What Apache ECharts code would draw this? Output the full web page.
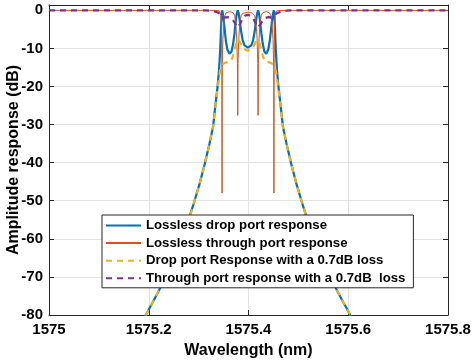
<!DOCTYPE html>
<html>
<head>
<meta charset="utf-8">
<script src="https://cdn.jsdelivr.net/npm/echarts@6/dist/echarts.min.js"></script>
<style>
html,body{margin:0;padding:0;background:#fff;}
#chart{width:474px;height:364px;}
</style>
</head>
<body>
<div id="chart"></div>
<script>
// ---------- data (wavelength nm, amplitude dB) ----------
const seriesNames = [
  'Lossless drop port response',
  'Lossless through port response',
  'Drop port Response with a 0.7dB loss',
  'Through port response with a 0.7dB  loss'
];
const xTickValues = [1575, 1575.2, 1575.4, 1575.6, 1575.8];
const xTickLabels = ['1575', '1575.2', '1575.4', '1575.6', '1575.8'];
const yTickValues = [-80, -70, -60, -50, -40, -30, -20, -10, 0];
const yTickLabels = ['-80', '-70', '-60', '-50', '-40', '-30', '-20', '-10', '0'];

const dropLossless = [
  [1575.182,-82.5],[1575.194,-80],[1575.206,-77.1],[1575.218,-74.2],[1575.230,-71.0],
  [1575.242,-67.6],[1575.254,-63.9],[1575.266,-59.9],[1575.278,-55.7],[1575.290,-50.8],
  [1575.302,-45.5],[1575.312,-40.5],[1575.322,-34.9],[1575.329,-30.5],[1575.334,-24.5],
  [1575.338,-20],[1575.341,-15.5],[1575.343,-11],[1575.3446,-6],[1575.346,-1.5],[1575.347,0],
  [1575.3486,-0.8],[1575.3506,-2.8],[1575.3526,-5.5],[1575.3548,-8.2],[1575.3576,-10.3],
  [1575.362,-11.4],[1575.366,-10.8],[1575.3692,-8.8],[1575.372,-6.0],[1575.3742,-3.0],
  [1575.3764,-0.9],[1575.3784,0],
  [1575.3804,-0.8],[1575.3826,-2.8],[1575.3852,-5.5],[1575.3882,-7.8],[1575.392,-9.2],
  [1575.3988,-9.8],[1575.4056,-9.2],[1575.4094,-7.8],[1575.4124,-5.5],[1575.415,-2.8],
  [1575.4172,-0.9],[1575.4192,0],
  [1575.4212,-0.9],[1575.4234,-3.0],[1575.4258,-6.0],[1575.4286,-8.8],[1575.4318,-10.8],
  [1575.4356,-11.4],[1575.4396,-10.3],[1575.4424,-8.2],[1575.4448,-5.5],[1575.447,-2.8],
  [1575.4492,-0.8],[1575.451,0],
  [1575.452,-1.5],[1575.4534,-6],[1575.455,-11],[1575.457,-15.5],[1575.460,-20],
  [1575.464,-24.5],[1575.469,-30.5],[1575.476,-34.9],[1575.486,-40.5],[1575.496,-45.5],
  [1575.508,-50.8],[1575.520,-55.7],[1575.532,-59.9],[1575.544,-63.9],[1575.556,-67.6],
  [1575.568,-71.0],[1575.580,-74.2],[1575.592,-77.1],[1575.604,-80],[1575.616,-82.5]
];

const throughLossless = [
  [1575.0,0],[1575.30,-0.005],[1575.322,-0.01],[1575.334,-0.03],[1575.338,-0.04],
  [1575.341,-0.12],[1575.343,-0.36],[1575.3446,-1.3],[1575.346,-6],[1575.3466,-15],
  [1575.347,-48],[1575.3474,-15],[1575.348,-9.6],[1575.3486,-7.7],[1575.3506,-3.2],
  [1575.3526,-1.44],[1575.3548,-0.71],[1575.3576,-0.43],[1575.362,-0.33],[1575.366,-0.38],
  [1575.3692,-0.61],[1575.372,-1.26],[1575.3742,-3.0],[1575.3764,-7.3],[1575.3778,-14],
  [1575.3784,-27.6],[1575.379,-14],[1575.3804,-7.7],[1575.3826,-3.2],[1575.3852,-1.44],
  [1575.3882,-0.79],[1575.392,-0.56],[1575.3988,-0.48],[1575.4056,-0.56],[1575.4094,-0.79],
  [1575.4124,-1.44],[1575.415,-3.2],[1575.4172,-7.3],[1575.4186,-14],[1575.4192,-27.6],
  [1575.4198,-14],[1575.4212,-7.3],[1575.4234,-3.0],[1575.4258,-1.26],[1575.4286,-0.61],
  [1575.4318,-0.38],[1575.4356,-0.33],[1575.4396,-0.43],[1575.4424,-0.71],[1575.4448,-1.44],
  [1575.447,-3.2],[1575.4492,-7.7],[1575.4506,-15],[1575.451,-48],[1575.4514,-15],
  [1575.452,-6],[1575.4534,-1.3],[1575.455,-0.36],[1575.457,-0.12],[1575.460,-0.04],
  [1575.464,-0.03],[1575.476,-0.01],[1575.50,-0.005],[1575.8,0]
];

const dropLossy = [
  [1575.182,-82.5],[1575.194,-80],[1575.206,-77.1],[1575.218,-74.2],[1575.230,-71.0],
  [1575.242,-67.6],[1575.254,-63.9],[1575.266,-59.9],[1575.278,-55.7],[1575.290,-50.8],
  [1575.302,-45.5],[1575.312,-40.5],[1575.322,-34.9],[1575.329,-30.5],[1575.334,-24.8],
  [1575.338,-20.6],[1575.3416,-17],[1575.3444,-15],[1575.348,-14.2],[1575.353,-13.8],
  [1575.358,-13.6],[1575.363,-13.5],[1575.3676,-12.5],[1575.372,-10.5],[1575.3756,-8.4],
  [1575.3788,-7.6],[1575.382,-7.9],[1575.386,-9.0],[1575.391,-10.1],[1575.3988,-10.6],
  [1575.4066,-10.1],[1575.4116,-9.0],[1575.4156,-7.9],[1575.4188,-7.6],[1575.422,-8.4],
  [1575.4256,-10.5],[1575.430,-12.5],[1575.4346,-13.5],[1575.4396,-13.6],[1575.4446,-13.8],
  [1575.4496,-14.2],[1575.4532,-15],[1575.4562,-17],[1575.460,-20.6],[1575.464,-24.8],
  [1575.469,-30.5],[1575.476,-34.9],[1575.486,-40.5],[1575.496,-45.5],
  [1575.508,-50.8],[1575.520,-55.7],[1575.532,-59.9],[1575.544,-63.9],[1575.556,-67.6],
  [1575.568,-71.0],[1575.580,-74.2],[1575.592,-77.1],[1575.604,-80],[1575.616,-82.5]
];

const throughLossy = [
  [1575.0,0],[1575.312,-0.03],[1575.322,-0.1],[1575.328,-0.2],[1575.334,-0.35],
  [1575.339,-0.6],[1575.343,-0.9],[1575.347,-1.6],[1575.352,-1.9],[1575.358,-1.8],
  [1575.364,-2.0],[1575.370,-2.8],[1575.375,-3.8],[1575.3788,-4.5],[1575.383,-3.6],
  [1575.388,-2.2],[1575.393,-1.4],[1575.3988,-1.2],[1575.405,-1.4],[1575.410,-2.2],
  [1575.415,-3.6],[1575.419,-4.5],[1575.423,-3.8],[1575.428,-2.8],[1575.434,-2.0],
  [1575.440,-1.8],[1575.446,-1.9],[1575.451,-1.6],[1575.455,-0.9],[1575.459,-0.6],
  [1575.464,-0.35],[1575.470,-0.2],[1575.476,-0.1],[1575.486,-0.03],[1575.8,0]
];

// ---------- chart ----------
const FONT = '"Liberation Sans", Arial, Helvetica, sans-serif';
const AX = '#262626';
const chart = echarts.init(document.getElementById('chart'), null, {renderer: 'canvas'});

function xFmt(v) {
  for (let i = 0; i < xTickValues.length; i++) {
    if (Math.abs(v - xTickValues[i]) < 1e-6) return xTickLabels[i];
  }
  return '';
}
function yFmt(v) {
  for (let i = 0; i < yTickValues.length; i++) {
    if (Math.abs(v - yTickValues[i]) < 1e-6) return yTickLabels[i];
  }
  return '';
}

const labelStyle = {fontFamily: FONT, fontWeight: 'bold', fontSize: 15, color: '#000'};

chart.setOption({
  animation: false,
  backgroundColor: '#fff',
  grid: {left: 49, right: 26, top: 5, bottom: 49, containLabel: false, outerBoundsMode: 'none'},
  legend: {
    left: 102, top: 215, orient: 'vertical',
    itemWidth: 35, itemHeight: 14, itemGap: 4.6,
    padding: [4, 8, 3, 3],
    backgroundColor: '#fff', borderColor: AX, borderWidth: 1, borderRadius: 0,
    itemStyle: {color: 'rgba(0,0,0,0)', borderWidth: 0, opacity: 0},
    textStyle: {fontFamily: FONT, fontWeight: 'bold', fontSize: 13.2, color: '#000'},
    data: seriesNames
  },
  xAxis: [{
    type: 'value', min: 1575, max: 1575.8, interval: 0.2, position: 'bottom',
    name: 'Wavelength (nm)', nameLocation: 'middle', nameGap: 28, nameMoveOverlap: false,
    nameTextStyle: {fontFamily: FONT, fontWeight: 'bold', fontSize: 16, color: '#000'},
    axisLine: {show: true, onZero: false, lineStyle: {color: AX, width: 1}},
    axisTick: {show: true, inside: true, length: 5, lineStyle: {color: AX}},
    axisLabel: Object.assign({margin: 7, formatter: xFmt}, labelStyle),
    splitLine: {show: true, lineStyle: {color: '#e3e3e3', width: 1}}
  }, {
    type: 'value', min: 1575, max: 1575.8, interval: 0.2, position: 'top',
    axisLine: {show: true, onZero: false, lineStyle: {color: AX, width: 1}},
    axisTick: {show: true, inside: true, length: 5, lineStyle: {color: AX}},
    axisLabel: {show: false}, splitLine: {show: false}
  }],
  yAxis: [{
    type: 'value', min: -80, max: 1.4, interval: 10, position: 'left',
    name: 'Amplitude response (dB)', nameLocation: 'middle', nameGap: 27, nameMoveOverlap: false,
    nameTextStyle: {fontFamily: FONT, fontWeight: 'bold', fontSize: 16, color: '#000'},
    axisLine: {show: true, onZero: false, lineStyle: {color: AX, width: 1}},
    axisTick: {show: true, inside: true, length: 5, lineStyle: {color: AX}},
    axisLabel: Object.assign({margin: 6, formatter: yFmt, showMaxLabel: false}, labelStyle),
    splitLine: {show: true, lineStyle: {color: '#e3e3e3', width: 1}}
  }, {
    type: 'value', min: -80, max: 1.4, interval: 10, position: 'right',
    axisLine: {show: true, onZero: false, lineStyle: {color: AX, width: 1}},
    axisTick: {show: true, inside: true, length: 5, lineStyle: {color: AX}},
    axisLabel: {show: false}, splitLine: {show: false}
  }],
  series: [{
    name: seriesNames[0], type: 'line', data: dropLossless, showSymbol: false, symbol: 'none',
    xAxisIndex: 0, yAxisIndex: 0, clip: true,
    lineStyle: {color: '#0072BD', width: 2.2}, itemStyle: {color: '#0072BD'}
  }, {
    name: seriesNames[1], type: 'line', data: throughLossless, showSymbol: false, symbol: 'none',
    xAxisIndex: 0, yAxisIndex: 0, clip: true,
    lineStyle: {color: '#D95319', width: 1}, itemStyle: {color: '#D95319'}
  }, {
    name: seriesNames[2], type: 'line', data: dropLossy, showSymbol: false, symbol: 'none',
    xAxisIndex: 0, yAxisIndex: 0, clip: true,
    lineStyle: {color: '#EDB120', width: 2.2, type: [6, 5]}, itemStyle: {color: '#EDB120'}
  }, {
    name: seriesNames[3], type: 'line', data: throughLossy, showSymbol: false, symbol: 'none',
    xAxisIndex: 0, yAxisIndex: 0, clip: true,
    lineStyle: {color: '#7E2F8E', width: 2.2, type: [6, 5]}, itemStyle: {color: '#7E2F8E'}
  }]
});
</script>
</body>
</html>
